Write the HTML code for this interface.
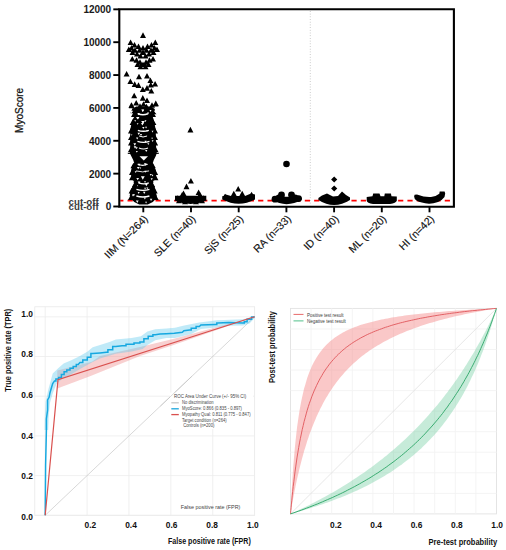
<!DOCTYPE html>
<html><head><meta charset="utf-8"><style>
*{margin:0;padding:0}
html,body{width:506px;height:550px;background:#fff;overflow:hidden}
svg{display:block}
text{font-family:"Liberation Sans",sans-serif}
.yt{font-size:10px;font-weight:bold;fill:#1a1a1a}
.xl{font-size:10.6px;fill:#111;stroke:#111;stroke-width:0.15px}
.yl{font-size:10px;fill:#111;stroke:#111;stroke-width:0.25px}
.co{font-size:9.7px;font-weight:bold;fill:#3a3a3a}
.lg{font-size:4.9px;fill:#444}
.lg2{font-size:6.1px;fill:#3a3a3a}
.lg3{font-size:5.6px;fill:#444}
.tl{font-size:8.4px;font-weight:bold;fill:#111}
.al{font-size:8.6px;font-weight:bold;fill:#111}
</style></head>
<body><svg width="506" height="550" viewBox="0 0 506 550">
<rect width="506" height="550" fill="#fff"/>
<line x1="310.3" y1="11" x2="310.3" y2="205.5" stroke="#b0b0b0" stroke-width="0.8" stroke-dasharray="0.8 1.9"/>
<line x1="120.3" y1="200.6" x2="453" y2="200.6" stroke="#ff0000" stroke-width="1.9" stroke-dasharray="5.2 4.13" stroke-dashoffset="2.1"/>
<polygon fill="#000" points="136.2,106.5 132.2,109.0 132.2,112.0 133.2,114.0 134.2,117.0 132.2,120.0 131.2,125.0 130.2,130.0 130.2,140.0 130.2,150.0 129.7,153.0 131.2,156.0 133.2,160.0 134.2,163.0 132.2,166.0 131.2,170.0 131.2,178.0 133.2,181.0 134.2,184.0 132.2,187.0 130.2,192.0 129.7,196.0 131.2,199.0 134.2,202.0 139.2,204.5 147.8,204.5 152.8,202.0 155.8,199.0 156.8,196.0 155.8,192.0 154.8,187.0 152.8,184.0 153.8,181.0 156.3,178.0 155.8,170.0 153.8,166.0 152.8,163.0 153.8,160.0 155.8,156.0 156.8,153.0 156.3,150.0 155.8,140.0 155.8,130.0 154.8,125.0 153.8,120.0 152.8,117.0 153.8,114.0 154.8,112.0 154.8,109.0 150.8,106.5"/>
<path fill="#000" d="M140.00 37.90L143.00 32.30L146.00 37.90ZM127.60 45.00L130.60 39.40L133.60 45.00ZM152.30 45.00L155.30 39.40L158.30 45.00ZM131.50 47.60L134.50 42.00L137.50 47.60ZM148.50 47.60L151.50 42.00L154.50 47.60ZM135.50 49.10L138.50 43.50L141.50 49.10ZM144.50 49.10L147.50 43.50L150.50 49.10ZM128.50 50.60L131.50 45.00L134.50 50.60ZM140.00 50.60L143.00 45.00L146.00 50.60ZM151.50 50.60L154.50 45.00L157.50 50.60ZM132.00 52.80L135.00 47.20L138.00 52.80ZM136.50 52.80L139.50 47.20L142.50 52.80ZM143.50 52.80L146.50 47.20L149.50 52.80ZM148.00 52.80L151.00 47.20L154.00 52.80ZM129.50 55.10L132.50 49.50L135.50 55.10ZM140.00 55.10L143.00 49.50L146.00 55.10ZM150.50 55.10L153.50 49.50L156.50 55.10ZM134.00 56.60L137.00 51.00L140.00 56.60ZM146.00 56.60L149.00 51.00L152.00 56.60ZM137.50 58.60L140.50 53.00L143.50 58.60ZM142.50 58.60L145.50 53.00L148.50 58.60ZM129.30 61.60L132.30 56.00L135.30 61.60ZM150.00 61.60L153.00 56.00L156.00 61.60ZM133.50 62.80L136.50 57.20L139.50 62.80ZM146.50 62.80L149.50 57.20L152.50 62.80ZM137.00 64.80L140.00 59.20L143.00 64.80ZM143.00 64.80L146.00 59.20L149.00 64.80ZM134.50 67.10L137.50 61.50L140.50 67.10ZM140.00 67.10L143.00 61.50L146.00 67.10ZM145.50 67.10L148.50 61.50L151.50 67.10ZM137.50 69.30L140.50 63.70L143.50 69.30ZM142.50 69.30L145.50 63.70L148.50 69.30ZM125.80 52.00L128.80 46.40L131.80 52.00ZM154.00 52.00L157.00 46.40L160.00 52.00ZM123.60 76.50L126.60 70.90L129.60 76.50ZM136.00 79.30L139.00 73.70L142.00 79.30ZM144.00 78.60L147.00 73.00L150.00 78.60ZM127.40 84.10L130.40 78.50L133.40 84.10ZM131.70 86.90L134.70 81.30L137.70 86.90ZM135.50 87.90L138.50 82.30L141.50 87.90ZM147.40 83.10L150.40 77.50L153.40 83.10ZM152.10 86.50L155.10 80.90L158.10 86.50ZM147.80 87.40L150.80 81.80L153.80 87.40ZM139.80 92.10L142.80 86.50L145.80 92.10ZM144.00 90.70L147.00 85.10L150.00 90.70ZM148.30 93.60L151.30 88.00L154.30 93.60ZM131.20 98.30L134.20 92.70L137.20 98.30ZM139.80 100.70L142.80 95.10L145.80 100.70ZM144.00 103.10L147.00 97.50L150.00 103.10ZM152.60 106.40L155.60 100.80L158.60 106.40ZM128.40 107.80L131.40 102.20L134.40 107.80ZM133.20 105.60L136.20 100.00L139.20 105.60ZM128.80 108.30L131.80 102.70L134.80 108.30ZM149.00 107.80L152.00 102.20L155.00 107.80ZM152.80 106.10L155.80 100.50L158.80 106.10ZM135.40 111.60L138.40 106.00L141.40 111.60ZM130.00 113.30L133.00 107.70L136.00 113.30ZM147.90 113.30L150.90 107.70L153.90 113.30ZM150.50 114.30L153.50 108.70L156.50 114.30ZM140.50 106.80L143.50 101.20L146.50 106.80ZM137.00 108.80L140.00 103.20L143.00 108.80ZM143.50 109.30L146.50 103.70L149.50 109.30ZM187.40 132.40L190.40 126.80L193.40 132.40ZM187.90 183.60L190.90 178.00L193.90 183.60ZM183.50 189.20L186.50 183.60L189.50 189.20ZM180.50 196.00L183.50 190.40L186.50 196.00ZM195.60 195.00L198.60 189.40L201.60 195.00ZM179.00 197.80L182.00 192.20L185.00 197.80ZM197.00 197.30L200.00 191.70L203.00 197.30ZM174.50 200.80L177.50 195.20L180.50 200.80ZM200.50 200.80L203.50 195.20L206.50 200.80ZM176.00 203.30L179.00 197.70L182.00 203.30ZM199.00 203.30L202.00 197.70L205.00 203.30ZM182.00 204.30L185.00 198.70L188.00 204.30ZM193.00 204.30L196.00 198.70L199.00 204.30ZM235.20 191.60L238.20 186.00L241.20 191.60ZM230.80 196.30L233.80 190.70L236.80 196.30ZM239.20 196.30L242.20 190.70L245.20 196.30ZM222.10 199.30L225.10 193.70L228.10 199.30ZM248.60 197.30L251.60 191.70L254.60 197.30Z"/>
<path d="M137.90694694063785 113.7Q142.90694694063785 115.7 147.90694694063785 113.7" fill="none" stroke="#fff" stroke-width="1.5"/><path d="M137.86634383794393 130.3Q143.36634383794393 132.3 148.86634383794393 130.3" fill="none" stroke="#fff" stroke-width="1.4"/><path d="M139.10493274982213 136.0Q143.10493274982213 138.0 147.10493274982213 136.0" fill="none" stroke="#fff" stroke-width="1.0"/><path d="M137.4558800578943 141.4Q143.4558800578943 143.4 149.4558800578943 141.4" fill="none" stroke="#fff" stroke-width="1.3"/><path d="M138.98858045616208 148.0Q143.48858045616208 150.0 147.98858045616208 148.0" fill="none" stroke="#fff" stroke-width="1.1"/><path d="M137.64829328885972 164.3Q142.64829328885972 166.3 147.64829328885972 164.3" fill="none" stroke="#fff" stroke-width="1.2"/><path d="M136.06975198733232 170.9Q142.56975198733232 172.9 149.06975198733232 170.9" fill="none" stroke="#fff" stroke-width="0.9"/><path d="M138.8062036231447 182.9Q143.8062036231447 184.9 148.8062036231447 182.9" fill="none" stroke="#fff" stroke-width="1.3"/><path d="M136.439031021492 189.4Q142.939031021492 191.4 149.439031021492 189.4" fill="none" stroke="#fff" stroke-width="1.4"/><path d="M136.40149644157006 196.0Q142.90149644157006 198.0 149.40149644157006 196.0" fill="none" stroke="#fff" stroke-width="1.4"/><path d="M130.4 110.8L133.2 110.8L130.4 114.6Z" fill="#fff"/><path d="M156.6 110.8L153.8 110.8L156.6 114.6Z" fill="#fff"/><path d="M129.0 118.8L131.8 118.8L129.0 122.6Z" fill="#fff"/><path d="M157.0 118.8L154.2 118.8L157.0 122.6Z" fill="#fff"/><path d="M127.4 127.2L130.2 127.2L127.4 131.0Z" fill="#fff"/><path d="M158.6 127.2L155.8 127.2L158.6 131.0Z" fill="#fff"/><path d="M127.4 133.8L130.2 133.8L127.4 137.6Z" fill="#fff"/><path d="M158.6 133.8L155.8 133.8L158.6 137.6Z" fill="#fff"/><path d="M127.4 139.2L130.2 139.2L127.4 143.0Z" fill="#fff"/><path d="M158.7 139.2L155.9 139.2L158.7 143.0Z" fill="#fff"/><path d="M127.4 145.8L130.2 145.8L127.4 149.6Z" fill="#fff"/><path d="M159.0 145.8L156.2 145.8L159.0 149.6Z" fill="#fff"/><path d="M129.9 162.1L132.7 162.1L129.9 165.9Z" fill="#fff"/><path d="M156.4 162.1L153.6 162.1L156.4 165.9Z" fill="#fff"/><path d="M128.4 168.7L131.2 168.7L128.4 172.5Z" fill="#fff"/><path d="M158.7 168.7L155.9 168.7L158.7 172.5Z" fill="#fff"/><path d="M128.4 174.1L131.2 174.1L128.4 177.9Z" fill="#fff"/><path d="M159.1 174.1L156.3 174.1L159.1 177.9Z" fill="#fff"/><path d="M131.4 180.7L134.2 180.7L131.4 184.5Z" fill="#fff"/><path d="M155.6 180.7L152.8 180.7L155.6 184.5Z" fill="#fff"/><path d="M128.0 187.2L130.8 187.2L128.0 191.0Z" fill="#fff"/><path d="M158.3 187.2L155.5 187.2L158.3 191.0Z" fill="#fff"/><path d="M127.4 193.8L130.2 193.8L127.4 197.6Z" fill="#fff"/><path d="M159.3 193.8L156.5 193.8L159.3 197.6Z" fill="#fff"/><path d="M139.5 156.2L148 156.2L143.8 160.6Z" fill="#fff"/><path d="M141.32834711765503 109.61376381631005L144.05255770167878 109.61376381631005L142.6904524096669 112.06555334193142Z" fill="#fff"/><path d="M141.72235877727118 109.68743873661094L144.1097436061211 109.68743873661094L142.91605119169614 111.83608508257586Z" fill="#fff"/><path d="M137.36576000402766 113.07441573446515L139.7956427242445 113.07441573446515L138.58070136413608 115.26131018266027Z" fill="#fff"/><path d="M147.01873857999902 112.5946546161628L149.12213984262354 112.5946546161628L148.07043921131128 114.48771575252486Z" fill="#fff"/><path d="M136.87742048445554 116.89241948440723L139.3708589669968 116.89241948440723L138.12413972572617 119.13651411869434Z" fill="#fff"/><path d="M136.10098286042785 117.02914912969167L138.86574064155343 117.02914912969167L137.48336175099064 119.51743113270469Z" fill="#fff"/><path d="M144.4963272916541 120.2424717140548L146.45382138679423 120.2424717140548L145.47507433922416 122.00421639968096Z" fill="#fff"/><path d="M134.27143629756523 120.15577390192975L136.1309874027341 120.15577390192975L135.20121185014966 121.82936989658172Z" fill="#fff"/><path d="M136.6821908085835 123.1393773553467L138.5122733978083 123.1393773553467L137.5972321031959 124.786451685649Z" fill="#fff"/><path d="M141.04980343947483 123.07170446715166L143.69223056799336 123.07170446715166L142.3710170037341 125.44988888281834Z" fill="#fff"/><path d="M142.20964678146123 126.92553964338573L144.50941993366803 126.92553964338573L143.35953335756463 128.99533548037184Z" fill="#fff"/><path d="M145.01496974970698 126.75082151755062L147.09313264937086 126.75082151755062L146.05405119953892 128.62116812724813Z" fill="#fff"/><path d="M151.63301623451525 130.70544046521255L154.2732317840081 130.70544046521255L152.95312400926167 133.08163445975615Z" fill="#fff"/><path d="M146.14135947915503 129.9595661697998L148.17102538076296 129.9595661697998L147.156192429959 131.78626548124691Z" fill="#fff"/><path d="M137.49765500307885 132.75050570045525L140.06394288948925 132.75050570045525L138.78079894628405 135.06016479822463Z" fill="#fff"/><path d="M139.91473933251686 134.08594434355416L142.1012528642228 134.08594434355416L141.00799609836983 136.05380652208947Z" fill="#fff"/><path d="M151.2605751978685 137.66071943827924L153.06112013492407 137.66071943827924L152.16084766639628 139.28120988162928Z" fill="#fff"/><path d="M136.05935465658538 137.54391361795015L138.32934193259908 137.54391361795015L137.19434829459223 139.58690216636248Z" fill="#fff"/><path d="M151.70007041980423 140.3532693273938L153.57310876363792 140.3532693273938L152.63658959172108 142.03900383684416Z" fill="#fff"/><path d="M144.57309409862245 140.83636727393247L146.6428696854726 140.83636727393247L145.60798189204752 142.69916530209758Z" fill="#fff"/><path d="M133.37827469841696 143.25504414072788L136.14235091501072 143.25504414072788L134.76031280671384 145.74271273566228Z" fill="#fff"/><path d="M147.28922446882734 143.25611294212746L149.33561241772048 143.25611294212746L148.3124184432739 145.09786209613128Z" fill="#fff"/><path d="M133.7598025575261 146.3211804240819L136.35682406937008 146.3211804240819L135.05831331344808 148.65849978474148Z" fill="#fff"/><path d="M135.4955910326502 147.2276015175402L137.74301591015123 147.2276015175402L136.6193034714007 149.2502839072911Z" fill="#fff"/><path d="M135.86106281567163 151.0289061358991L137.79202989938824 151.0289061358991L136.82654635752993 152.76677651124407Z" fill="#fff"/><path d="M145.1241062604454 149.97542195369874L147.3448618776918 149.97542195369874L146.2344840690686 151.97410200922053Z" fill="#fff"/><path d="M137.7737054044719 163.79694234984262L140.42808230617317 163.79694234984262L139.10089385532254 166.18588156137375Z" fill="#fff"/><path d="M143.9144492728142 163.29531336439632L146.70375097032436 163.29531336439632L145.3091001215693 165.80568489215548Z" fill="#fff"/><path d="M136.96342759993362 167.02970597639475L139.53611728970643 167.02970597639475L138.24977244482002 169.3451266971903Z" fill="#fff"/><path d="M139.3206773565589 167.40145779487372L141.19407590994732 167.40145779487372L140.2573766332531 169.0875164929233Z" fill="#fff"/><path d="M134.69747861418003 171.15474638318952L136.7404915343176 171.15474638318952L135.71898507424882 172.99345801131332Z" fill="#fff"/><path d="M144.34288526396355 170.74361242276422L146.5960933686874 170.74361242276422L145.46948931632548 172.77149971701567Z" fill="#fff"/><path d="M151.31202437288408 174.25702973945045L153.68659561831402 174.25702973945045L152.49930999559905 176.3941438603374Z" fill="#fff"/><path d="M149.73604615827233 173.99488068015143L151.69018147719837 173.99488068015143L150.71311381773535 175.75360246718486Z" fill="#fff"/><path d="M150.68951347016375 178.30442856929642L152.73901203659298 178.30442856929642L151.71426275337836 180.14897727908277Z" fill="#fff"/><path d="M136.33091053823617 177.8759543814824L139.07131543433107 177.8759543814824L137.70111298628362 180.3423187879678Z" fill="#fff"/><path d="M137.6886614418042 181.6182183890432L140.3708511960706 181.6182183890432L139.0297563189374 184.03218916788296Z" fill="#fff"/><path d="M144.07348425712692 181.17545797930694L145.97732393849188 181.17545797930694L145.0254040978094 182.88891369253537Z" fill="#fff"/><path d="M135.99179343882113 185.32673903047936L138.03020063149714 185.32673903047936L137.01099703515914 187.16130550388772Z" fill="#fff"/><path d="M145.06589215514254 184.00479906643977L147.6896100018999 184.00479906643977L146.37775107852121 186.3661451285214Z" fill="#fff"/><path d="M144.10166625332752 187.75120799118258L146.0770996500934 187.75120799118258L145.08938295171046 189.52909804827186Z" fill="#fff"/><path d="M146.27046279501877 187.390385834455L148.29885913234392 187.390385834455L147.28466096368135 189.2159425380476Z" fill="#fff"/><path d="M143.00592742633998 191.79216345593676L145.42023044206482 191.79216345593676L144.2130789342024 193.96503617008915Z" fill="#fff"/><path d="M137.6951457575152 192.07424977202263L139.6991246368849 192.07424977202263L138.69713519720005 193.87783076345536Z" fill="#fff"/><path d="M131.85228974380607 194.39322340805145L134.09799526378822 194.39322340805145L132.97514250379714 196.41435837603538Z" fill="#fff"/><path d="M132.81773135638895 194.28842724639185L134.98651672676124 194.28842724639185L133.9021240415751 196.2403340797269Z" fill="#fff"/><path d="M143.776231168252 197.62440246042627L145.93837632495146 197.62440246042627L144.85730374660173 199.5703331014558Z" fill="#fff"/><path d="M149.84486846115652 198.7651207110782L152.3018005076661 198.7651207110782L151.0733344844113 200.97635955293683Z" fill="#fff"/><path d="M145.0921957291591 201.8035041680549L147.03254291630472 201.8035041680549L146.0623693227319 203.54981663648593Z" fill="#fff"/><path d="M135.91497296465454 200.60724569202472L138.62518541704733 200.60724569202472L137.27007919085094 203.04643689917827Z" fill="#fff"/><path d="M141.2 120.88L144.8 120.88L143 124.12Z" fill="#fff"/><path d="M140.9 176.29L144.70000000000002 176.29L142.8 179.71Z" fill="#fff"/><path d="M149.5 110.1L151.5 110.1L150.5 111.9Z" fill="#fff"/><path d="M130.6 134.49L132.4 134.49L131.5 136.11Z" fill="#fff"/>
<path fill="#000" d="M131.00 117.00L134.00 111.40L137.00 117.00ZM150.00 117.00L153.00 111.40L156.00 117.00ZM129.60 125.00L132.60 119.40L135.60 125.00ZM150.40 125.00L153.40 119.40L156.40 125.00ZM128.00 133.40L131.00 127.80L134.00 133.40ZM152.00 133.40L155.00 127.80L158.00 133.40ZM128.00 140.00L131.00 134.40L134.00 140.00ZM152.00 140.00L155.00 134.40L158.00 140.00ZM128.00 145.40L131.00 139.80L134.00 145.40ZM152.12 145.40L155.12 139.80L158.12 145.40ZM128.00 152.00L131.00 146.40L134.00 152.00ZM152.45 152.00L155.45 146.40L158.45 152.00ZM130.47 168.30L133.47 162.70L136.47 168.30ZM149.77 168.30L152.77 162.70L155.77 168.30ZM129.00 174.90L132.00 169.30L135.00 174.90ZM152.12 174.90L155.12 169.30L158.12 174.90ZM129.00 180.30L132.00 174.70L135.00 180.30ZM152.46 180.30L155.46 174.70L158.46 180.30ZM131.97 186.90L134.97 181.30L137.97 186.90ZM149.03 186.90L152.03 181.30L155.03 186.90ZM128.64 193.40L131.64 187.80L134.64 193.40ZM151.68 193.40L154.68 187.80L157.68 193.40ZM128.00 200.00L131.00 194.40L134.00 200.00ZM152.67 200.00L155.67 194.40L158.67 200.00Z"/>
<line x1="127.8" y1="153.3" x2="158.8" y2="153.3" stroke="#000" stroke-width="1.2"/>
<path fill="#000" d="M175 195.8L206.3 195.8L206.3 200.6Q190.65 207.6 175 200.6ZM222.4 196L255 196L255 199.5Q238.7 207.89999999999998 222.4 199.5Z"/>
<path fill="#000" d="M222.6 197L225 194.3L231 196L245 196L251 193.5L255 194.5L255 198L222.6 198Z"/>
<g fill="#000"><circle cx="286.5" cy="164" r="3.3"/><circle cx="275" cy="199.2" r="3.4"/><circle cx="281.5" cy="194.9" r="3.4"/><circle cx="291.5" cy="194.8" r="3.4"/><circle cx="298.5" cy="198.6" r="3.4"/><circle cx="279" cy="198" r="3.4"/><circle cx="295" cy="198" r="3.4"/></g>
<path fill="#000" d="M272 198L278 196L285 196.8L289 196.8L296 195.8L301.5 197.5L301.9 199.5Q287 208.5 272 200Z"/>
<path fill="#000" d="M334.2 176.4L337.3 179.5L334.2 182.6L331.09999999999997 179.5ZM334.2 185.4L337.3 188.5L334.2 191.6L331.09999999999997 188.5Z"/>
<path fill="#000" d="M318.4 198L322 195.5L327 193.5L333 196.5L338 196L342 191.5L346 195L350 197.5L350 200Q334 210 318.4 200Z"/>
<path fill="#000" d="M366.7 197L372.5 196.3L373.2 193.6L379.5 193.6L380.5 196.3L384.3 196.3L384.8 193.6L390.9 193.6L391.5 196.3L396.8 196.6L396.8 200.8Q396 203.2 390 203.9L373 203.9Q367 203.2 366.7 200.8Z"/>
<path fill="#000" d="M414.1 196.5L414.6 194.8L417 194.5Q425 197.5 431 197Q436 196.5 439.3 193.7L439.7 191.6L444.6 191.4L445.2 193.5L444.5 197Q442 200.5 438 202Q433 203.8 428.9 203.7Q421 203 416.5 200.5Q414.2 199 414.1 196.5Z"/>
<path d="M119.3 9.3L453.9 9.3L453.9 206.7L119.3 206.7Z" fill="none" stroke="#000" stroke-width="2.1"/>
<line x1="113.3" y1="206.50" x2="119.3" y2="206.50" stroke="#000" stroke-width="1.9"/>
<text x="111.2" y="210.40" text-anchor="end" class="yt">0</text>
<line x1="113.3" y1="173.64" x2="119.3" y2="173.64" stroke="#000" stroke-width="1.9"/>
<text x="111.2" y="177.54" text-anchor="end" class="yt">2000</text>
<line x1="113.3" y1="140.78" x2="119.3" y2="140.78" stroke="#000" stroke-width="1.9"/>
<text x="111.2" y="144.68" text-anchor="end" class="yt">4000</text>
<line x1="113.3" y1="107.92" x2="119.3" y2="107.92" stroke="#000" stroke-width="1.9"/>
<text x="111.2" y="111.82" text-anchor="end" class="yt">6000</text>
<line x1="113.3" y1="75.06" x2="119.3" y2="75.06" stroke="#000" stroke-width="1.9"/>
<text x="111.2" y="78.96" text-anchor="end" class="yt">8000</text>
<line x1="113.3" y1="42.20" x2="119.3" y2="42.20" stroke="#000" stroke-width="1.9"/>
<text x="111.2" y="46.10" text-anchor="end" class="yt">10000</text>
<line x1="113.3" y1="9.34" x2="119.3" y2="9.34" stroke="#000" stroke-width="1.9"/>
<text x="111.2" y="13.24" text-anchor="end" class="yt">12000</text>
<line x1="143.30" y1="206.7" x2="143.30" y2="212.3" stroke="#000" stroke-width="1.9"/>
<text transform="translate(148.60 219.4) rotate(-45)" text-anchor="end" class="xl">IIM (N=264)</text>
<line x1="191.00" y1="206.7" x2="191.00" y2="212.3" stroke="#000" stroke-width="1.9"/>
<text transform="translate(196.30 219.4) rotate(-45)" text-anchor="end" class="xl">SLE (n=40)</text>
<line x1="238.70" y1="206.7" x2="238.70" y2="212.3" stroke="#000" stroke-width="1.9"/>
<text transform="translate(244.00 219.4) rotate(-45)" text-anchor="end" class="xl">SjS (n=25)</text>
<line x1="286.40" y1="206.7" x2="286.40" y2="212.3" stroke="#000" stroke-width="1.9"/>
<text transform="translate(291.70 219.4) rotate(-45)" text-anchor="end" class="xl">RA (n=33)</text>
<line x1="334.10" y1="206.7" x2="334.10" y2="212.3" stroke="#000" stroke-width="1.9"/>
<text transform="translate(339.40 219.4) rotate(-45)" text-anchor="end" class="xl">ID (n=40)</text>
<line x1="381.80" y1="206.7" x2="381.80" y2="212.3" stroke="#000" stroke-width="1.9"/>
<text transform="translate(387.10 219.4) rotate(-45)" text-anchor="end" class="xl">ML (n=20)</text>
<line x1="429.50" y1="206.7" x2="429.50" y2="212.3" stroke="#000" stroke-width="1.9"/>
<text transform="translate(434.80 219.4) rotate(-45)" text-anchor="end" class="xl">HI (n=42)</text>
<text transform="translate(23.4 110.4) rotate(-90)" text-anchor="middle" class="yl">MyoScore</text>
<text x="68.6" y="204.5" class="co">cut-off</text>
<text x="68.6" y="209.8" class="co">cut-off</text>
<rect x="34.8" y="306.8" width="219.8" height="208.5" fill="none" stroke="#e8e8e8" stroke-width="0.8"/>
<line x1="45.20" y1="306.8" x2="45.20" y2="515.3" stroke="#ececec" stroke-width="0.8"/>
<line x1="34.8" y1="515.30" x2="254.6" y2="515.30" stroke="#ececec" stroke-width="0.8"/>
<line x1="87.08" y1="306.8" x2="87.08" y2="515.3" stroke="#ececec" stroke-width="0.8"/>
<line x1="34.8" y1="475.60" x2="254.6" y2="475.60" stroke="#ececec" stroke-width="0.8"/>
<line x1="128.96" y1="306.8" x2="128.96" y2="515.3" stroke="#ececec" stroke-width="0.8"/>
<line x1="34.8" y1="435.90" x2="254.6" y2="435.90" stroke="#ececec" stroke-width="0.8"/>
<line x1="170.84" y1="306.8" x2="170.84" y2="515.3" stroke="#ececec" stroke-width="0.8"/>
<line x1="34.8" y1="396.20" x2="254.6" y2="396.20" stroke="#ececec" stroke-width="0.8"/>
<line x1="212.72" y1="306.8" x2="212.72" y2="515.3" stroke="#ececec" stroke-width="0.8"/>
<line x1="34.8" y1="356.50" x2="254.6" y2="356.50" stroke="#ececec" stroke-width="0.8"/>
<line x1="254.60" y1="306.8" x2="254.60" y2="515.3" stroke="#ececec" stroke-width="0.8"/>
<line x1="34.8" y1="316.80" x2="254.6" y2="316.80" stroke="#ececec" stroke-width="0.8"/>
<line x1="45.2" y1="515.3" x2="254.60000000000002" y2="316.79999999999995" stroke="#bdbdbd" stroke-width="0.6"/>
<polygon points="57.3,370.5 75.0,366.0 92.0,361.8 100.0,356.0 140.0,347.0 175.0,338.6 254.6,316.8 175.0,344.6 140.0,356.0 90.0,376.3 57.3,388.5" fill="#ee8a8a" fill-opacity="0.40"/>
<polygon points="44.6,430.0 44.9,415.0 45.6,402.0 48.2,390.0 52.7,373.6 58.2,368.2 63.6,363.6 71.8,360.0 79.0,356.4 87.3,351.8 92.7,347.3 100.0,345.0 109.5,341.9 115.8,339.5 131.6,337.9 141.0,336.3 147.4,331.6 155.3,329.2 166.4,328.4 175.0,327.8 183.1,325.8 199.3,322.6 217.1,320.2 243.1,319.3 254.6,316.2 254.6,318.0 249.5,323.4 243.1,325.5 228.5,325.8 215.5,327.4 200.9,329.1 191.2,333.9 175.0,338.0 166.4,337.9 155.3,340.3 147.4,345.0 142.7,349.0 131.6,351.4 115.8,353.7 100.0,358.5 92.7,362.0 80.0,369.0 70.0,375.0 62.0,379.0 56.4,384.0 52.7,393.6 50.0,402.7 48.8,415.0 48.2,430.0" fill="#62cbee" fill-opacity="0.40"/>
<polyline points="45.2,515.3 45.6,465.5 46.4,430.0 46.4,419.0 47.6,410.0 47.6,400.0 49.1,397.3 50.0,392.7 51.3,388.2 52.7,383.6 54.5,380.9 55.9,380.9 55.9,379.0 57.3,379.0 58.6,379.0 58.6,377.6 60.0,377.6 61.4,377.6 61.4,374.5 62.7,374.5 64.1,374.5 64.1,371.8 65.5,371.8 66.8,371.8 66.8,370.0 68.2,370.0 70.0,370.0 70.0,368.2 71.8,368.2 73.2,368.2 73.2,366.4 74.5,366.4 76.3,366.4 76.3,364.5 78.2,364.5 80.0,362.4 82.8,362.4 82.8,360.0 85.5,360.0 87.3,360.0 87.3,357.3 89.1,357.3 90.9,357.3 90.9,353.6 92.7,353.6 100.0,352.9 106.3,352.2 107.9,352.2 107.9,349.8 109.5,349.8 112.7,349.8 112.7,346.6 115.8,346.6 122.1,345.8 126.0,345.8 126.0,344.2 130.0,344.2 134.0,344.2 134.0,343.1 138.0,343.1 139.9,343.1 139.9,341.9 141.9,341.9 143.9,341.9 143.9,338.7 145.9,338.7 148.2,338.7 148.2,336.3 150.6,336.3 152.9,336.3 152.9,334.8 155.3,334.8 160.0,334.0 166.4,333.7 174.3,333.2 182.3,332.3 183.9,330.7 189.6,329.9 191.2,329.9 191.2,328.3 192.8,328.3 196.1,328.3 196.1,326.6 199.3,326.6 200.9,325.0 215.5,324.5 216.8,324.5 216.8,322.9 218.0,322.9 228.5,322.6 243.1,322.9 244.3,322.9 244.3,321.8 245.5,321.8 247.1,321.8 247.1,319.3 248.7,319.3 251.6,319.3 251.6,316.9 254.6,316.9" fill="none" stroke="#16a8e0" stroke-width="1.5" stroke-linejoin="miter"/>
<polyline points="45.2,515.3 58,379.6 254.6,316.8" fill="none" stroke="#d9504e" stroke-width="1.2"/>
<rect x="170" y="392.6" width="83" height="36.4" fill="#fff"/>
<line x1="160.37" y1="406.12499999999994" x2="191.77999999999997" y2="376.34999999999997" stroke="#bdbdbd" stroke-width="0.6"/>
<text x="174" y="398.2" class="lg" textLength="72.3" lengthAdjust="spacingAndGlyphs">ROC Area Under Curve (+/- 95% CI)</text>
<text x="182" y="404.4" class="lg" textLength="31.5" lengthAdjust="spacingAndGlyphs">No discrimination</text>
<line x1="171.3" y1="402.79999999999995" x2="178.8" y2="402.79999999999995" stroke="#c8c8c8" stroke-width="1.3"/>
<text x="182" y="410.4" class="lg" textLength="60" lengthAdjust="spacingAndGlyphs">MyoScore: 0.866 (0.835 - 0.897)</text>
<line x1="171.3" y1="408.79999999999995" x2="178.8" y2="408.79999999999995" stroke="#1aa6dc" stroke-width="1.3"/>
<text x="182" y="416.2" class="lg" textLength="68.6" lengthAdjust="spacingAndGlyphs">Myopathy Qual: 0.811 (0.775 - 0.847)</text>
<line x1="171.3" y1="414.59999999999997" x2="178.8" y2="414.59999999999997" stroke="#d9504e" stroke-width="1.3"/>
<text x="182" y="422.2" class="lg" textLength="44.6" lengthAdjust="spacingAndGlyphs">Target condition (n=264)</text>
<text x="183.2" y="427" class="lg" textLength="31.2" lengthAdjust="spacingAndGlyphs">Controls (n=200)</text>
<text x="180.8" y="509.2" class="lg3" textLength="59.6" lengthAdjust="spacingAndGlyphs">False positive rate (FPR)</text>
<text x="32.9" y="520.00" text-anchor="end" class="tl">0.0</text>
<text x="32.9" y="479.32" text-anchor="end" class="tl">0.2</text>
<text x="32.9" y="438.64" text-anchor="end" class="tl">0.4</text>
<text x="32.9" y="397.96" text-anchor="end" class="tl">0.6</text>
<text x="32.9" y="357.28" text-anchor="end" class="tl">0.8</text>
<text x="32.9" y="316.60" text-anchor="end" class="tl">1.0</text>
<text x="90.40" y="528.10" text-anchor="middle" class="tl">0.2</text>
<text x="131.00" y="528.10" text-anchor="middle" class="tl">0.4</text>
<text x="171.60" y="528.10" text-anchor="middle" class="tl">0.6</text>
<text x="212.20" y="528.10" text-anchor="middle" class="tl">0.8</text>
<text x="252.80" y="528.10" text-anchor="middle" class="tl">1.0</text>
<text x="168" y="544.2" class="al" textLength="82.8" lengthAdjust="spacingAndGlyphs">False positive rate (FPR)</text>
<text transform="translate(10.9 391.7) rotate(-90)" class="al" textLength="83" lengthAdjust="spacingAndGlyphs">True positive rate (TPR)</text>
<rect x="290.5" y="308.4" width="206" height="205.5" fill="none" stroke="#e2e2e2" stroke-width="0.9"/>
<line x1="311.10" y1="308.4" x2="311.10" y2="513.9" stroke="#f3f3f3" stroke-width="0.9"/>
<line x1="290.5" y1="493.35" x2="496.5" y2="493.35" stroke="#f3f3f3" stroke-width="0.9"/>
<line x1="331.70" y1="308.4" x2="331.70" y2="513.9" stroke="#f3f3f3" stroke-width="0.9"/>
<line x1="290.5" y1="472.80" x2="496.5" y2="472.80" stroke="#f3f3f3" stroke-width="0.9"/>
<line x1="352.30" y1="308.4" x2="352.30" y2="513.9" stroke="#f3f3f3" stroke-width="0.9"/>
<line x1="290.5" y1="452.25" x2="496.5" y2="452.25" stroke="#f3f3f3" stroke-width="0.9"/>
<line x1="372.90" y1="308.4" x2="372.90" y2="513.9" stroke="#f3f3f3" stroke-width="0.9"/>
<line x1="290.5" y1="431.70" x2="496.5" y2="431.70" stroke="#f3f3f3" stroke-width="0.9"/>
<line x1="393.50" y1="308.4" x2="393.50" y2="513.9" stroke="#f3f3f3" stroke-width="0.9"/>
<line x1="290.5" y1="411.15" x2="496.5" y2="411.15" stroke="#f3f3f3" stroke-width="0.9"/>
<line x1="414.10" y1="308.4" x2="414.10" y2="513.9" stroke="#f3f3f3" stroke-width="0.9"/>
<line x1="290.5" y1="390.60" x2="496.5" y2="390.60" stroke="#f3f3f3" stroke-width="0.9"/>
<line x1="434.70" y1="308.4" x2="434.70" y2="513.9" stroke="#f3f3f3" stroke-width="0.9"/>
<line x1="290.5" y1="370.05" x2="496.5" y2="370.05" stroke="#f3f3f3" stroke-width="0.9"/>
<line x1="455.30" y1="308.4" x2="455.30" y2="513.9" stroke="#f3f3f3" stroke-width="0.9"/>
<line x1="290.5" y1="349.50" x2="496.5" y2="349.50" stroke="#f3f3f3" stroke-width="0.9"/>
<line x1="475.90" y1="308.4" x2="475.90" y2="513.9" stroke="#f3f3f3" stroke-width="0.9"/>
<line x1="290.5" y1="328.95" x2="496.5" y2="328.95" stroke="#f3f3f3" stroke-width="0.9"/>
<line x1="290.5" y1="513.9" x2="496.5" y2="308.4" stroke="#dcdcdc" stroke-width="0.7"/>
<polygon points="290.5,513.9 290.6,511.8 290.8,507.6 291.1,502.2 291.4,496.0 291.8,489.1 292.2,482.0 292.7,474.7 293.2,467.4 293.8,460.1 294.4,453.0 295.0,446.2 295.7,439.6 296.4,433.2 297.1,427.1 297.9,421.4 298.7,415.9 299.5,410.7 300.4,405.8 301.3,401.1 302.2,396.7 303.2,392.6 304.1,388.6 305.2,384.9 306.2,381.4 307.2,378.1 308.3,375.0 309.4,372.1 310.6,369.3 311.7,366.6 312.9,364.1 314.1,361.8 315.4,359.5 316.6,357.4 317.9,355.4 319.2,353.5 320.5,351.7 321.9,349.9 323.2,348.3 324.6,346.7 326.0,345.2 327.5,343.8 328.9,342.4 330.4,341.1 331.9,339.9 333.4,338.7 334.9,337.6 336.5,336.5 338.1,335.4 339.6,334.4 341.3,333.5 342.9,332.6 344.5,331.7 346.2,330.8 347.9,330.0 349.6,329.3 351.4,328.5 353.1,327.8 354.9,327.1 356.7,326.4 358.5,325.8 360.3,325.1 362.1,324.6 364.0,324.0 365.8,323.4 367.7,322.9 369.6,322.4 371.6,321.9 373.5,321.4 375.5,320.9 377.5,320.4 379.5,320.0 381.5,319.6 383.5,319.2 385.5,318.8 387.6,318.4 389.7,318.0 391.8,317.6 393.9,317.3 396.0,316.9 398.2,316.6 400.3,316.3 402.5,315.9 404.7,315.6 406.9,315.3 409.1,315.1 411.4,314.8 413.6,314.5 415.9,314.2 418.2,314.0 420.5,313.7 422.8,313.5 425.2,313.2 427.5,313.0 429.9,312.8 432.3,312.5 434.6,312.3 437.1,312.1 439.5,311.9 441.9,311.7 444.4,311.5 446.8,311.3 449.3,311.1 451.8,311.0 454.3,310.8 456.9,310.6 459.4,310.4 462.0,310.3 464.5,310.1 467.1,309.9 469.7,309.8 472.3,309.6 475.0,309.5 477.6,309.3 480.3,309.2 482.9,309.1 485.6,308.9 488.3,308.8 491.0,308.7 493.8,308.5 496.5,308.4 496.5,308.4 493.8,308.8 491.0,309.3 488.3,309.8 485.6,310.2 482.9,310.7 480.3,311.2 477.6,311.7 475.0,312.2 472.3,312.7 469.7,313.2 467.1,313.8 464.5,314.3 462.0,314.9 459.4,315.4 456.9,316.0 454.3,316.6 451.8,317.2 449.3,317.8 446.8,318.4 444.4,319.0 441.9,319.7 439.5,320.3 437.1,321.0 434.6,321.7 432.3,322.4 429.9,323.1 427.5,323.8 425.2,324.6 422.8,325.3 420.5,326.1 418.2,326.9 415.9,327.7 413.6,328.5 411.4,329.4 409.1,330.2 406.9,331.1 404.7,332.0 402.5,332.9 400.3,333.8 398.2,334.8 396.0,335.8 393.9,336.8 391.8,337.8 389.7,338.8 387.6,339.9 385.5,341.0 383.5,342.1 381.5,343.2 379.5,344.4 377.5,345.6 375.5,346.8 373.5,348.0 371.6,349.3 369.6,350.6 367.7,351.9 365.8,353.3 364.0,354.7 362.1,356.1 360.3,357.6 358.5,359.1 356.7,360.7 354.9,362.2 353.1,363.8 351.4,365.5 349.6,367.2 347.9,368.9 346.2,370.7 344.5,372.5 342.9,374.4 341.3,376.3 339.6,378.2 338.1,380.2 336.5,382.3 334.9,384.4 333.4,386.5 331.9,388.7 330.4,391.0 328.9,393.3 327.5,395.7 326.0,398.1 324.6,400.5 323.2,403.1 321.9,405.7 320.5,408.3 319.2,411.0 317.9,413.7 316.6,416.6 315.4,419.4 314.1,422.4 312.9,425.4 311.7,428.4 310.6,431.5 309.4,434.6 308.3,437.9 307.2,441.1 306.2,444.4 305.2,447.7 304.1,451.1 303.2,454.5 302.2,458.0 301.3,461.4 300.4,464.9 299.5,468.4 298.7,471.9 297.9,475.4 297.1,478.8 296.4,482.2 295.7,485.6 295.0,488.9 294.4,492.1 293.8,495.2 293.2,498.2 292.7,501.1 292.2,503.8 291.8,506.3 291.4,508.5 291.1,510.5 290.8,512.1 290.6,513.3 290.5,513.9" fill="#f47c7c" fill-opacity="0.42"/>
<polyline points="290.5,513.9 290.6,512.8 290.8,510.6 291.1,507.6 291.4,504.1 291.8,500.2 292.2,495.9 292.7,491.4 293.2,486.6 293.8,481.8 294.4,476.9 295.0,471.9 295.7,466.9 296.4,462.0 297.1,457.1 297.9,452.3 298.7,447.6 299.5,442.9 300.4,438.4 301.3,434.0 302.2,429.7 303.2,425.6 304.1,421.6 305.2,417.7 306.2,413.9 307.2,410.3 308.3,406.7 309.4,403.3 310.6,400.1 311.7,396.9 312.9,393.9 314.1,390.9 315.4,388.1 316.6,385.4 317.9,382.8 319.2,380.2 320.5,377.8 321.9,375.5 323.2,373.2 324.6,371.0 326.0,368.9 327.5,366.9 328.9,364.9 330.4,363.0 331.9,361.2 333.4,359.5 334.9,357.8 336.5,356.1 338.1,354.6 339.6,353.0 341.3,351.6 342.9,350.1 344.5,348.8 346.2,347.4 347.9,346.2 349.6,344.9 351.4,343.7 353.1,342.5 354.9,341.4 356.7,340.3 358.5,339.3 360.3,338.2 362.1,337.2 364.0,336.3 365.8,335.3 367.7,334.4 369.6,333.5 371.6,332.7 373.5,331.8 375.5,331.0 377.5,330.3 379.5,329.5 381.5,328.8 383.5,328.0 385.5,327.3 387.6,326.7 389.7,326.0 391.8,325.3 393.9,324.7 396.0,324.1 398.2,323.5 400.3,322.9 402.5,322.4 404.7,321.8 406.9,321.3 409.1,320.8 411.4,320.3 413.6,319.8 415.9,319.3 418.2,318.8 420.5,318.3 422.8,317.9 425.2,317.5 427.5,317.0 429.9,316.6 432.3,316.2 434.6,315.8 437.1,315.4 439.5,315.0 441.9,314.6 444.4,314.3 446.8,313.9 449.3,313.6 451.8,313.2 454.3,312.9 456.9,312.6 459.4,312.2 462.0,311.9 464.5,311.6 467.1,311.3 469.7,311.0 472.3,310.7 475.0,310.5 477.6,310.2 480.3,309.9 482.9,309.7 485.6,309.4 488.3,309.1 491.0,308.9 493.8,308.6 496.5,308.4" fill="none" stroke="#e0565a" stroke-width="0.9"/>
<polygon points="290.5,513.9 293.2,512.6 296.0,511.4 298.7,510.1 301.4,508.8 304.1,507.5 306.7,506.2 309.4,504.9 312.0,503.5 314.7,502.2 317.3,500.8 319.9,499.4 322.5,498.1 325.0,496.7 327.6,495.2 330.1,493.8 332.7,492.4 335.2,490.9 337.7,489.4 340.2,488.0 342.6,486.5 345.1,484.9 347.5,483.4 349.9,481.9 352.4,480.3 354.7,478.8 357.1,477.2 359.5,475.6 361.8,474.0 364.2,472.4 366.5,470.7 368.8,469.1 371.1,467.4 373.4,465.7 375.6,464.0 377.9,462.3 380.1,460.6 382.3,458.9 384.5,457.1 386.7,455.4 388.8,453.6 391.0,451.8 393.1,450.0 395.2,448.2 397.3,446.3 399.4,444.5 401.5,442.6 403.5,440.7 405.5,438.9 407.5,436.9 409.5,435.0 411.5,433.1 413.5,431.2 415.4,429.2 417.4,427.2 419.3,425.3 421.2,423.3 423.0,421.3 424.9,419.3 426.7,417.2 428.5,415.2 430.3,413.1 432.1,411.1 433.9,409.0 435.6,406.9 437.4,404.9 439.1,402.8 440.8,400.7 442.5,398.6 444.1,396.4 445.7,394.3 447.4,392.2 448.9,390.1 450.5,387.9 452.1,385.8 453.6,383.7 455.1,381.5 456.6,379.4 458.1,377.2 459.5,375.1 461.0,372.9 462.4,370.8 463.8,368.7 465.1,366.5 466.5,364.4 467.8,362.3 469.1,360.2 470.4,358.1 471.6,356.0 472.9,353.9 474.1,351.9 475.3,349.8 476.4,347.8 477.6,345.8 478.7,343.8 479.8,341.9 480.8,339.9 481.8,338.0 482.9,336.1 483.8,334.3 484.8,332.5 485.7,330.7 486.6,328.9 487.5,327.2 488.3,325.6 489.1,323.9 489.9,322.4 490.6,320.9 491.3,319.4 492.0,318.0 492.6,316.7 493.2,315.4 493.8,314.2 494.3,313.1 494.8,312.1 495.2,311.2 495.6,310.3 495.9,309.6 496.2,309.0 496.4,308.6 496.5,308.4 496.5,308.4 496.4,308.8 496.2,309.5 495.9,310.5 495.6,311.7 495.2,313.0 494.8,314.6 494.3,316.2 493.8,318.1 493.2,320.0 492.6,322.0 492.0,324.1 491.3,326.3 490.6,328.6 489.9,330.9 489.1,333.3 488.3,335.8 487.5,338.2 486.6,340.8 485.7,343.3 484.8,345.9 483.8,348.5 482.9,351.2 481.8,353.8 480.8,356.5 479.8,359.1 478.7,361.8 477.6,364.4 476.4,367.1 475.3,369.8 474.1,372.4 472.9,375.0 471.6,377.6 470.4,380.2 469.1,382.8 467.8,385.4 466.5,387.9 465.1,390.5 463.8,393.0 462.4,395.5 461.0,397.9 459.5,400.3 458.1,402.7 456.6,405.1 455.1,407.5 453.6,409.8 452.1,412.1 450.5,414.3 448.9,416.6 447.4,418.8 445.7,421.0 444.1,423.1 442.5,425.2 440.8,427.3 439.1,429.4 437.4,431.4 435.6,433.4 433.9,435.4 432.1,437.3 430.3,439.2 428.5,441.1 426.7,443.0 424.9,444.8 423.0,446.6 421.2,448.4 419.3,450.1 417.4,451.8 415.4,453.5 413.5,455.2 411.5,456.8 409.5,458.4 407.5,460.0 405.5,461.6 403.5,463.1 401.5,464.7 399.4,466.1 397.3,467.6 395.2,469.1 393.1,470.5 391.0,471.9 388.8,473.3 386.7,474.6 384.5,475.9 382.3,477.3 380.1,478.6 377.9,479.8 375.6,481.1 373.4,482.3 371.1,483.5 368.8,484.7 366.5,485.9 364.2,487.0 361.8,488.2 359.5,489.3 357.1,490.4 354.7,491.5 352.4,492.6 349.9,493.6 347.5,494.7 345.1,495.7 342.6,496.7 340.2,497.7 337.7,498.6 335.2,499.6 332.7,500.6 330.1,501.5 327.6,502.4 325.0,503.3 322.5,504.2 319.9,505.1 317.3,505.9 314.7,506.8 312.0,507.6 309.4,508.4 306.7,509.3 304.1,510.1 301.4,510.9 298.7,511.6 296.0,512.4 293.2,513.2 290.5,513.9" fill="#58c490" fill-opacity="0.34"/>
<polyline points="290.5,513.9 293.2,513.0 296.0,512.0 298.7,511.1 301.4,510.1 304.1,509.1 306.7,508.1 309.4,507.1 312.0,506.1 314.7,505.0 317.3,504.0 319.9,502.9 322.5,501.8 325.0,500.7 327.6,499.6 330.1,498.5 332.7,497.4 335.2,496.2 337.7,495.1 340.2,493.9 342.6,492.7 345.1,491.5 347.5,490.2 349.9,489.0 352.4,487.7 354.7,486.5 357.1,485.2 359.5,483.9 361.8,482.5 364.2,481.2 366.5,479.8 368.8,478.5 371.1,477.1 373.4,475.6 375.6,474.2 377.9,472.8 380.1,471.3 382.3,469.8 384.5,468.3 386.7,466.8 388.8,465.2 391.0,463.6 393.1,462.1 395.2,460.5 397.3,458.8 399.4,457.2 401.5,455.5 403.5,453.8 405.5,452.1 407.5,450.4 409.5,448.6 411.5,446.9 413.5,445.1 415.4,443.3 417.4,441.4 419.3,439.6 421.2,437.7 423.0,435.8 424.9,433.9 426.7,431.9 428.5,429.9 430.3,428.0 432.1,426.0 433.9,423.9 435.6,421.9 437.4,419.8 439.1,417.7 440.8,415.6 442.5,413.5 444.1,411.3 445.7,409.1 447.4,407.0 448.9,404.7 450.5,402.5 452.1,400.3 453.6,398.0 455.1,395.7 456.6,393.4 458.1,391.1 459.5,388.8 461.0,386.5 462.4,384.1 463.8,381.8 465.1,379.4 466.5,377.0 467.8,374.7 469.1,372.3 470.4,369.9 471.6,367.5 472.9,365.1 474.1,362.7 475.3,360.3 476.4,357.9 477.6,355.6 478.7,353.2 479.8,350.8 480.8,348.5 481.8,346.2 482.9,343.9 483.8,341.6 484.8,339.4 485.7,337.1 486.6,335.0 487.5,332.8 488.3,330.7 489.1,328.7 489.9,326.7 490.6,324.8 491.3,322.9 492.0,321.1 492.6,319.3 493.2,317.7 493.8,316.1 494.3,314.7 494.8,313.3 495.2,312.1 495.6,311.0 495.9,310.0 496.2,309.3 496.4,308.7 496.5,308.4" fill="none" stroke="#2aa565" stroke-width="0.9"/>
<line x1="293.5" y1="314.4" x2="303.5" y2="314.4" stroke="#e86a6a" stroke-width="1"/>
<line x1="293.5" y1="320.9" x2="303.5" y2="320.9" stroke="#52c08a" stroke-width="1"/>
<text x="306.9" y="316.7" class="lg2" textLength="36.6" lengthAdjust="spacingAndGlyphs">Positive test result</text>
<text x="306.9" y="322.6" class="lg2" textLength="39" lengthAdjust="spacingAndGlyphs">Negative test result</text>
<text x="335.84" y="528.2" text-anchor="middle" class="tl">0.2</text>
<text x="376.18" y="528.2" text-anchor="middle" class="tl">0.4</text>
<text x="416.52" y="528.2" text-anchor="middle" class="tl">0.6</text>
<text x="456.86" y="528.2" text-anchor="middle" class="tl">0.8</text>
<text x="497.20" y="528.2" text-anchor="middle" class="tl">1.0</text>
<text x="428.5" y="544.8" class="al" textLength="68.7" lengthAdjust="spacingAndGlyphs">Pre-test probability</text>
<text transform="translate(274.6 383) rotate(-90)" class="al" textLength="72" lengthAdjust="spacingAndGlyphs">Post-test probability</text>
</svg></body></html>
